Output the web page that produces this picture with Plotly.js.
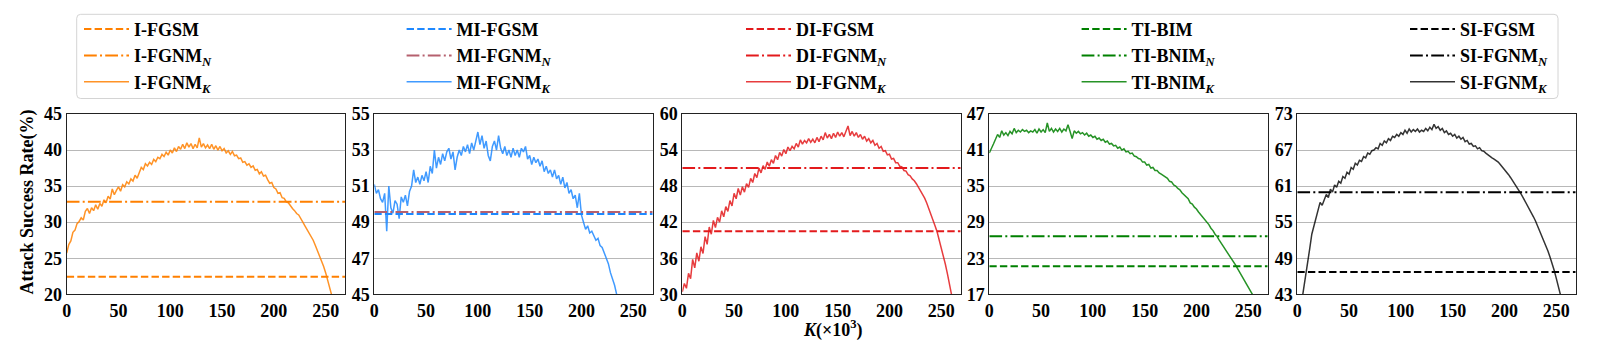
<!DOCTYPE html>
<html><head><meta charset="utf-8">
<script src="https://cdn.plot.ly/plotly-3.0.1.min.js"></script>
<style>html,body{margin:0;padding:0;background:#fff}#chart{width:1603px;height:349px}</style>
</head><body><div id="chart"></div>
<script>
// K (x10^3) sample grid
const K = [0,2,4,6,8,10,12,14,16,18,20,22,24,26,28,30,32,34,36,38,40,42,44,46,48,50,52,54,56,58,60,62,64,66,68,70,72,74,76,78,80,82,84,86,88,90,92,94,96,98,100,102,104,106,108,110,112,114,116,118,120,122,124,126,128,130,132,134,136,138,140,142,144,146,148,150,152,154,156,158,160,162,164,166,168,170,172,174,176,178,180,182,184,186,188,190,192,194,196,198,200,202,204,206,208,210,212,214,216,218,220,222,224,226,228,230,232,234,236,238,240,242,244,246,248,250,252,254,256,258,260];

// Attack success rate (%) of the *-FGNM_K curves
const iFgnmK = [25.7,26.9,27.4,28.6,28.9,29.8,30.1,30.6,30.3,31.5,
31.9,31.2,32.0,31.6,32.4,31.8,32.6,32.2,33.1,32.7,
33.6,33.2,34.6,33.8,34.4,34.9,34.3,35.2,34.9,35.6,
35.3,36.0,35.7,36.5,36.1,36.9,37.6,37.3,38.1,37.8,
38.3,38.0,38.7,38.4,39.0,38.8,39.4,39.1,39.7,39.3,
40.0,39.6,40.3,39.8,40.5,40.1,40.8,40.2,41.0,40.4,
40.9,40.2,40.8,40.3,41.7,40.4,40.9,40.3,40.7,40.2,
40.8,40.1,40.6,40.0,40.5,39.9,40.2,39.6,39.9,39.4,
39.8,39.2,39.3,38.8,38.9,38.3,38.4,37.9,38.1,37.6,
37.8,37.2,37.3,36.7,37.0,36.4,36.5,35.9,35.4,35.5,
34.8,34.6,34.0,34.1,33.4,33.3,32.8,32.7,32.2,31.9,
31.6,31.2,31.0,30.4,30.0,29.5,29.0,28.6,27.9,27.5,
26.8,26.1,25.5,24.7,23.9,23.0,22.0,21.0,19.8];
const miFgnmK = [51.1,50.6,50.8,50.3,50.1,50.6,48.5,51.0,49.8,49.5,
50.2,50.0,49.2,50.4,50.1,50.5,49.9,50.7,51.0,51.9,
51.2,51.5,51.1,51.6,51.3,51.8,51.2,52.1,51.7,53.0,
52.0,52.6,52.2,52.8,52.4,52.9,53.1,52.5,52.9,51.9,
52.6,53.0,52.7,53.2,52.9,53.3,52.8,53.4,53.0,53.6,
54.0,53.3,53.8,53.1,53.5,52.7,52.4,53.2,53.5,53.0,
53.8,53.1,52.8,53.2,52.7,53.0,52.6,53.1,52.7,53.0,
52.6,53.1,52.9,53.2,52.5,52.7,52.2,52.6,52.3,52.5,
52.1,52.4,51.8,52.1,51.7,51.9,51.5,51.9,51.4,51.6,
51.1,51.5,50.9,51.2,50.6,50.8,50.3,50.5,49.8,50.6,
49.4,49.0,48.6,48.8,48.4,48.5,48.2,48.0,48.1,47.7,
47.6,47.3,46.9,46.7,46.2,45.9,45.5,45.0,44.6];
const diFgnmK = [30.4,31.8,31.0,33.5,32.6,35.8,34.4,36.9,35.5,37.9,
36.8,39.6,38.3,41.2,40.0,42.3,41.1,42.8,42.0,43.9,
42.9,44.6,43.8,45.6,44.7,46.8,45.9,47.6,46.5,47.9,
47.0,48.4,47.8,49.3,48.6,50.1,49.4,51.0,50.2,51.4,
50.8,52.0,51.3,52.4,51.8,53.1,52.4,53.6,53.0,54.1,
53.4,54.5,53.9,54.6,54.2,55.1,54.5,55.7,55.0,55.6,
55.2,55.9,55.3,55.8,55.2,56.1,55.4,56.3,55.7,56.9,
56.0,56.6,55.9,56.8,56.1,57.0,56.3,56.9,56.2,57.3,
58.0,56.4,57.1,56.3,56.9,56.1,56.6,55.8,56.3,55.5,
55.9,55.2,55.6,54.8,55.1,54.3,54.6,53.8,53.9,53.2,
53.3,52.5,52.6,51.9,51.9,51.3,51.2,50.6,50.5,49.9,
49.7,49.2,48.9,48.4,47.8,47.3,46.6,46.0,45.2,44.3,
43.5,42.5,41.4,40.4,39.1,37.9,36.6,35.0,33.4,31.7,
29.9];
const tiBnimK = [40.5,41.4,42.0,42.8,43.6,43.1,44.2,43.5,43.9,43.4,
44.1,43.7,44.6,43.9,44.3,44.0,44.4,44.1,44.3,43.9,
44.2,44.0,44.4,43.8,44.5,44.0,44.4,43.9,45.5,44.1,
44.6,44.0,44.5,44.1,44.6,44.0,44.5,44.2,45.2,44.1,
42.9,44.2,43.8,44.1,43.7,43.9,43.5,43.8,43.3,43.5,
43.1,43.3,42.8,43.0,42.6,42.8,42.3,42.5,42.0,42.1,
41.7,41.8,41.3,41.5,41.0,41.2,40.7,40.8,40.4,40.5,
40.0,39.9,39.6,39.5,39.0,39.0,38.5,38.6,38.0,38.1,
37.6,37.6,37.2,37.0,36.8,36.5,36.3,35.8,35.7,35.2,
35.0,34.6,34.4,33.9,33.6,33.3,32.9,32.2,32.0,31.5,
31.2,30.7,30.3,29.9,29.5,29.0,28.6,28.0,27.6,27.0,
26.6,26.0,25.5,25.0,24.5,23.9,23.4,22.9,22.3,21.8,
21.2,20.6,20.0,19.4,18.8,18.2,17.6,17.0,16.4];
const siFgnmK = [41.5,43.6,45.8,48.2,50.6,53.0,54.3,55.6,56.9,58.3,
57.8,58.9,59.6,59.1,60.5,60.0,61.2,60.8,61.8,61.5,
62.6,62.3,63.3,63.0,64.1,63.8,64.8,64.5,65.3,65.1,
65.9,65.7,66.5,66.3,66.9,67.0,67.4,67.2,68.1,67.8,
68.5,68.2,68.9,68.6,69.3,69.1,69.6,69.3,69.9,69.6,
70.3,69.8,70.5,70.0,70.4,70.1,70.5,70.0,70.3,70.1,
70.6,70.2,70.8,70.4,71.3,70.6,70.9,70.3,70.6,69.9,
70.2,69.6,69.8,69.3,69.6,69.0,69.3,68.8,69.1,68.4,
68.6,68.0,68.1,67.6,67.7,67.2,67.4,66.9,66.8,66.5,
66.2,65.9,65.7,65.5,65.3,65.0,64.6,64.2,63.8,63.3,
62.9,62.4,61.9,61.4,60.8,60.3,59.7,59.1,58.5,57.9,
57.3,56.6,55.9,55.2,54.4,53.6,52.6,51.9,51.1,50.2,
49.2,48.2,47.0,45.7,44.4,43.0,41.6];
const kCurves = [iFgnmK, miFgnmK, diFgnmK, tiBnimK, siFgnmK];
const kStartIndex = [0, 0, 0, 0, 2]; // SI curve starts at K = 4

// Baseline rates (constant over K)
const baseRate = [22.45, 49.45, 40.5, 21.65, 46.7];   // I-FGSM, MI-FGSM, DI-FGSM, TI-BIM, SI-FGSM
const nRate    = [32.85, 49.57, 51.0, 26.65, 60.0];   // *-FGNM_N

const baseNames = ['I-FGSM', 'MI-FGSM', 'DI-FGSM', 'TI-BIM', 'SI-FGSM'];
const nNames = ['I-FGNM<sub><i>N</i></sub>', 'MI-FGNM<sub><i>N</i></sub>', 'DI-FGNM<sub><i>N</i></sub>', 'TI-BNIM<sub><i>N</i></sub>', 'SI-FGNM<sub><i>N</i></sub>'];
const kNames = ['I-FGNM<sub><i>K</i></sub>', 'MI-FGNM<sub><i>K</i></sub>', 'DI-FGNM<sub><i>K</i></sub>', 'TI-BNIM<sub><i>K</i></sub>', 'SI-FGNM<sub><i>K</i></sub>'];

const yTicks = [[20,25,30,35,40,45],[45,47,49,51,53,55],[30,36,42,48,54,60],[17,23,29,35,41,47],[43,49,55,61,67,73]];
const xTicks = [0,50,100,150,200,250];
const xMax = 268.8;

// styles
const baseColor = ['#ff8000', '#1e88ff', '#e31a1c', '#008000', '#000000'];
const nColor    = ['#ff8000', '#b5606e', '#e31a1c', '#008000', '#000000'];
const kColor    = ['rgba(255,128,0,0.85)', 'rgba(30,136,255,0.85)', 'rgba(227,26,28,0.85)', 'rgba(0,128,0,0.85)', 'rgba(0,0,0,0.8)'];

const W = 1603, H = 349;
const px = v => v / W, py = v => 1 - v / H;
const panelLeft = [66.7, 374.3, 682.3, 989.3, 1297.3];
const panelWidth = 278.4;
const plotTop = 114, plotBottom = 294.3;
const legendLeft = [79, 401.6, 741, 1076.6, 1405];

const FONT = 'Liberation Serif, Times New Roman, serif';
const tickFont = {family: FONT, size: 18, color: '#000', weight: 'bold'};

const traces = [];
const layout = {
  width: W, height: H,
  margin: {l: 0, r: 0, t: 0, b: 0},
  paper_bgcolor: '#fff', plot_bgcolor: '#fff',
  font: {family: FONT, size: 18, color: '#000', weight: 'bold'},
  showlegend: true,
  hovermode: false,
  annotations: [],
  shapes: []
};

for (let i = 0; i < 5; i++) {
  const s = i === 0 ? '' : String(i + 1);
  const xa = 'x' + s, ya = 'y' + s;
  const lg = i === 0 ? 'legend' : 'legend' + (i + 1);
  const kx = K.slice(kStartIndex[i], kStartIndex[i] + kCurves[i].length);
  traces.push({
    type: 'scatter', mode: 'lines', x: kx, y: kCurves[i], xaxis: xa, yaxis: ya,
    name: kNames[i], legend: lg, legendrank: 3,
    line: {color: kColor[i], width: 1.5}
  });
  traces.push({
    type: 'scatter', mode: 'lines', x: [0, xMax], y: [baseRate[i], baseRate[i]], xaxis: xa, yaxis: ya,
    name: baseNames[i], legend: lg, legendrank: 1,
    line: {color: baseColor[i], width: 2, dash: '7.4px,3.2px'}
  });
  traces.push({
    type: 'scatter', mode: 'lines', x: [0, xMax], y: [nRate[i], nRate[i]], xaxis: xa, yaxis: ya,
    name: nNames[i], legend: lg, legendrank: 2,
    line: {color: nColor[i], width: 2, dash: '12.8px,3.2px,2px,3.2px'}
  });

  layout['xaxis' + s] = {
    domain: [px(panelLeft[i]), px(panelLeft[i] + panelWidth)],
    anchor: ya, range: [0, xMax],
    tickmode: 'array', tickvals: xTicks, ticktext: xTicks.map(String),
    showgrid: false, zeroline: false, ticks: '',
    showline: true, mirror: true, linecolor: '#222', linewidth: 1,
    tickfont: tickFont, fixedrange: true
  };
  const yt = yTicks[i];
  layout['yaxis' + s] = {
    domain: [py(plotBottom), py(plotTop)],
    anchor: xa, range: [yt[0], yt[yt.length - 1]],
    tickmode: 'array', tickvals: yt, ticktext: yt.map(String),
    showgrid: true, gridcolor: '#b8b8b8', gridwidth: 1, zeroline: false, ticks: '',
    showline: true, mirror: true, linecolor: '#222', linewidth: 1,
    tickfont: tickFont, fixedrange: true
  };
  layout[lg] = {
    x: px(legendLeft[i]), y: py(10.8), xanchor: 'left', yanchor: 'top',
    orientation: 'v', traceorder: 'normal',
    bgcolor: 'rgba(0,0,0,0)', borderwidth: 0,
    itemwidth: 45,
    font: {family: FONT, size: 18, color: '#000', weight: 'bold'}
  };
}

// legend frame
(function () {
  const L = 76.7, R = 1558, T = 14.3, B = 98.5, r = 4;
  const p = `M ${px(L + r)},${py(T)} L ${px(R - r)},${py(T)} Q ${px(R)},${py(T)} ${px(R)},${py(T + r)} ` +
            `L ${px(R)},${py(B - r)} Q ${px(R)},${py(B)} ${px(R - r)},${py(B)} L ${px(L + r)},${py(B)} ` +
            `Q ${px(L)},${py(B)} ${px(L)},${py(B - r)} L ${px(L)},${py(T + r)} Q ${px(L)},${py(T)} ${px(L + r)},${py(T)} Z`;
  layout.shapes.push({type: 'path', xref: 'paper', yref: 'paper', path: p,
    line: {color: '#d4d4d4', width: 1}, fillcolor: 'rgba(255,255,255,0.8)', layer: 'below'});
})();

// axis titles
layout.annotations.push({
  xref: 'paper', yref: 'paper', x: px(27), y: py(202.5), xanchor: 'center', yanchor: 'middle',
  text: 'Attack Success Rate(%)', textangle: -90, showarrow: false,
  font: {family: FONT, size: 18, color: '#000', weight: 'bold'}
});
layout.annotations.push({
  xref: 'paper', yref: 'paper', x: px(833), y: py(329), xanchor: 'center', yanchor: 'middle',
  text: '<i>K</i>(×10<sup>3</sup>)', showarrow: false,
  font: {family: FONT, size: 18, color: '#000', weight: 'bold'}
});

Plotly.newPlot('chart', traces, layout, {displayModeBar: false, staticPlot: true});
</script>
</body></html>
